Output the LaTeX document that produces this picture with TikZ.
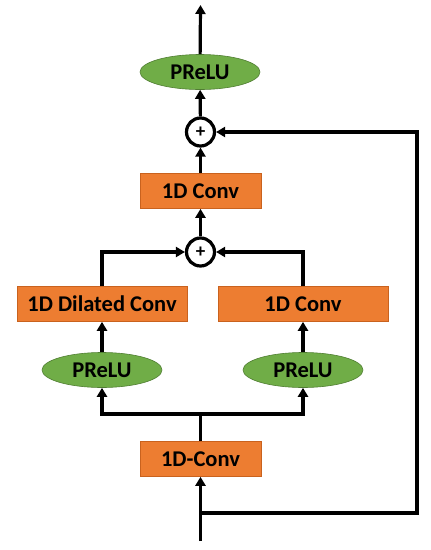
\documentclass[tikz,border=0pt]{standalone}
\usepackage{fontspec}
\setmainfont{Carlito}
\usetikzlibrary{arrows.meta,shapes.geometric,calc}
\definecolor{boxorange}{HTML}{ED7D31}
\definecolor{boxborder}{HTML}{C9621E}
\definecolor{ellgreen}{HTML}{70AD47}
\definecolor{ellborder}{HTML}{507E32}
\tikzset{
  convbox/.style={rectangle, fill=boxorange, draw=boxborder, line width=0.6pt,
    minimum height=35pt, inner sep=0pt, font=\fontsize{22.5}{26}\selectfont\bfseries},
  actell/.style={ellipse, fill=ellgreen, draw=ellborder, line width=0.6pt,
    minimum width=120pt, minimum height=35pt, inner sep=0pt, font=\fontsize{22.5}{26}\selectfont\bfseries},
  sumnode/.style={circle, draw=black, fill=white, line width=3.2pt, minimum size=28pt, inner sep=0pt,
    font=\fontsize{19}{21}\selectfont\bfseries},
  arr/.style={line width=3.2pt, -{Triangle[length=9pt,width=10pt]}},
  wire/.style={line width=3.2pt},
}
\begin{document}
\begin{tikzpicture}[x=1pt,y=-1pt]
\useasboundingbox (0,0) rectangle (431,550);
\node[actell] (prelutop) at (200,72) {PReLU};
\node[sumnode] (plustop) at (200.5,132) {+};
\node[convbox, minimum width=121pt] (convtop) at (200.5,191) {1D Conv};
\node[sumnode] (plusmid) at (200.5,252) {+};
\node[convbox, minimum width=170pt] (dil) at (102,304) {1D Dilated Conv};
\node[convbox, minimum width=170pt] (convr) at (303,304) {1D Conv};
\node[actell] (prelul) at (102,370) {PReLU};
\node[actell] (prelur) at (303,370) {PReLU};
\node[convbox, minimum width=121pt] (convin) at (200.5,459) {1D-Conv};
\coordinate (out) at (200.5,5);
\coordinate (inbot) at (200.5,541);
\coordinate (fbj) at (200.5,513);
\coordinate (fbc) at (417,513);
\coordinate (split) at (200.5,414);
\draw[arr] (prelutop) -- (out);
\draw[arr] (plustop) -- (prelutop);
\draw[arr] (convtop) -- (plustop);
\draw[arr] (plusmid) -- (convtop);
\draw[arr] (dil.north) |- (plusmid.west);
\draw[arr] (convr.north) |- (plusmid.east);
\draw[arr] (prelul) -- (dil);
\draw[arr] (prelur) -- (convr);
\draw[wire] (convin.north) -- (split);
\draw[arr] (split) -| (prelul.south);
\draw[arr] (split) -| (prelur.south);
\draw[arr] (inbot) -- (convin.south);
\draw[arr] (fbj) -- (fbc) |- (plustop.east);
\end{tikzpicture}
\end{document}
